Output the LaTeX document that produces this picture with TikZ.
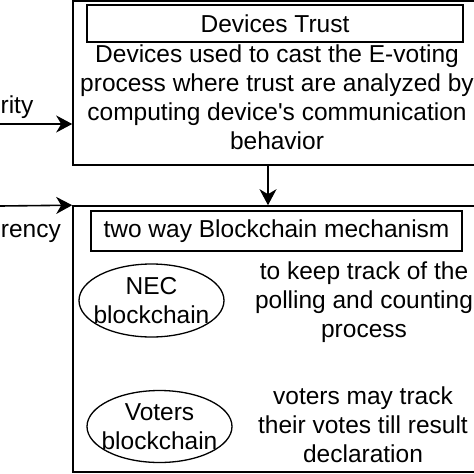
\documentclass[tikz,border=0pt]{standalone}
\usepackage{fontspec}
\setmainfont{Liberation Sans}
\usepackage{tikz}
\usetikzlibrary{shapes.geometric, arrows.meta, positioning, calc}

\begin{document}
\begin{tikzpicture}[x=1pt, y=-1pt, node distance=40pt, font=\fontsize{24.5}{28.8}\selectfont]
\tikzstyle{outer} = [rectangle, draw, line width=1.6pt, minimum width=409pt, inner sep=0pt]
\tikzstyle{titlebox} = [rectangle, draw, line width=1.6pt, inner sep=0pt]
\tikzstyle{desc} = [align=center, inner sep=0pt]
\tikzstyle{oval} = [ellipse, draw, line width=1.3pt, inner sep=0pt]
\tikzstyle{sidelabel} = [inner sep=0pt, anchor=base east]
\tikzstyle{line} = [draw, -{Stealth[length=16pt, width=17pt, inset=5pt]}, line width=1.6pt]

\useasboundingbox (0,0) rectangle (474,474);

\node (trust) [outer, minimum height=164pt] at (277.5,83) {};
\node (trusttitle) [titlebox, minimum width=376pt, minimum height=37pt] at (275,23.5) {Devices Trust};
\node (trusttext) [desc] at (277,97.3) {Devices used to cast the E-voting\\process where trust are analyzed by\\computing device\textquotesingle s communication\\behavior};

\node (chain) [outer, minimum height=266pt, below=39.4pt of trust] {};
\node (chaintitle) [titlebox, minimum width=371pt, minimum height=40pt] at (276.5,231) {two way Blockchain mechanism};

\node (nec) [oval, minimum width=145pt, minimum height=73pt,
  label={[align=center, inner sep=0pt]center:NEC\\blockchain}] at (151.5,300.5) {};
\node (nectext) [desc] at (364,302) {to keep track of the\\polling and counting\\process};

\node (voters) [oval, minimum width=145pt, minimum height=72pt,
  label={[align=center, inner sep=0pt]center:Voters\\blockchain}] at (159.5,426.5) {};
\node (voterstext) [desc] at (363,424.5) {voters may track\\their votes till result\\declaration};

% incoming arrows
\coordinate (secin) at (0,124);
\coordinate (trin) at (0,206);
\node (seclabel) [sidelabel] at (33.5,113) {rity};
\node (trlabel) [sidelabel] at (61,237) {rency};

\draw [line] (secin) -- (trust.west |- secin);
\draw [line] (trin) -- (chain.north west);
\draw [line] ([xshift=-9.5pt]trust.south) -- ([xshift=-9.5pt]chain.north);
\end{tikzpicture}
\end{document}
